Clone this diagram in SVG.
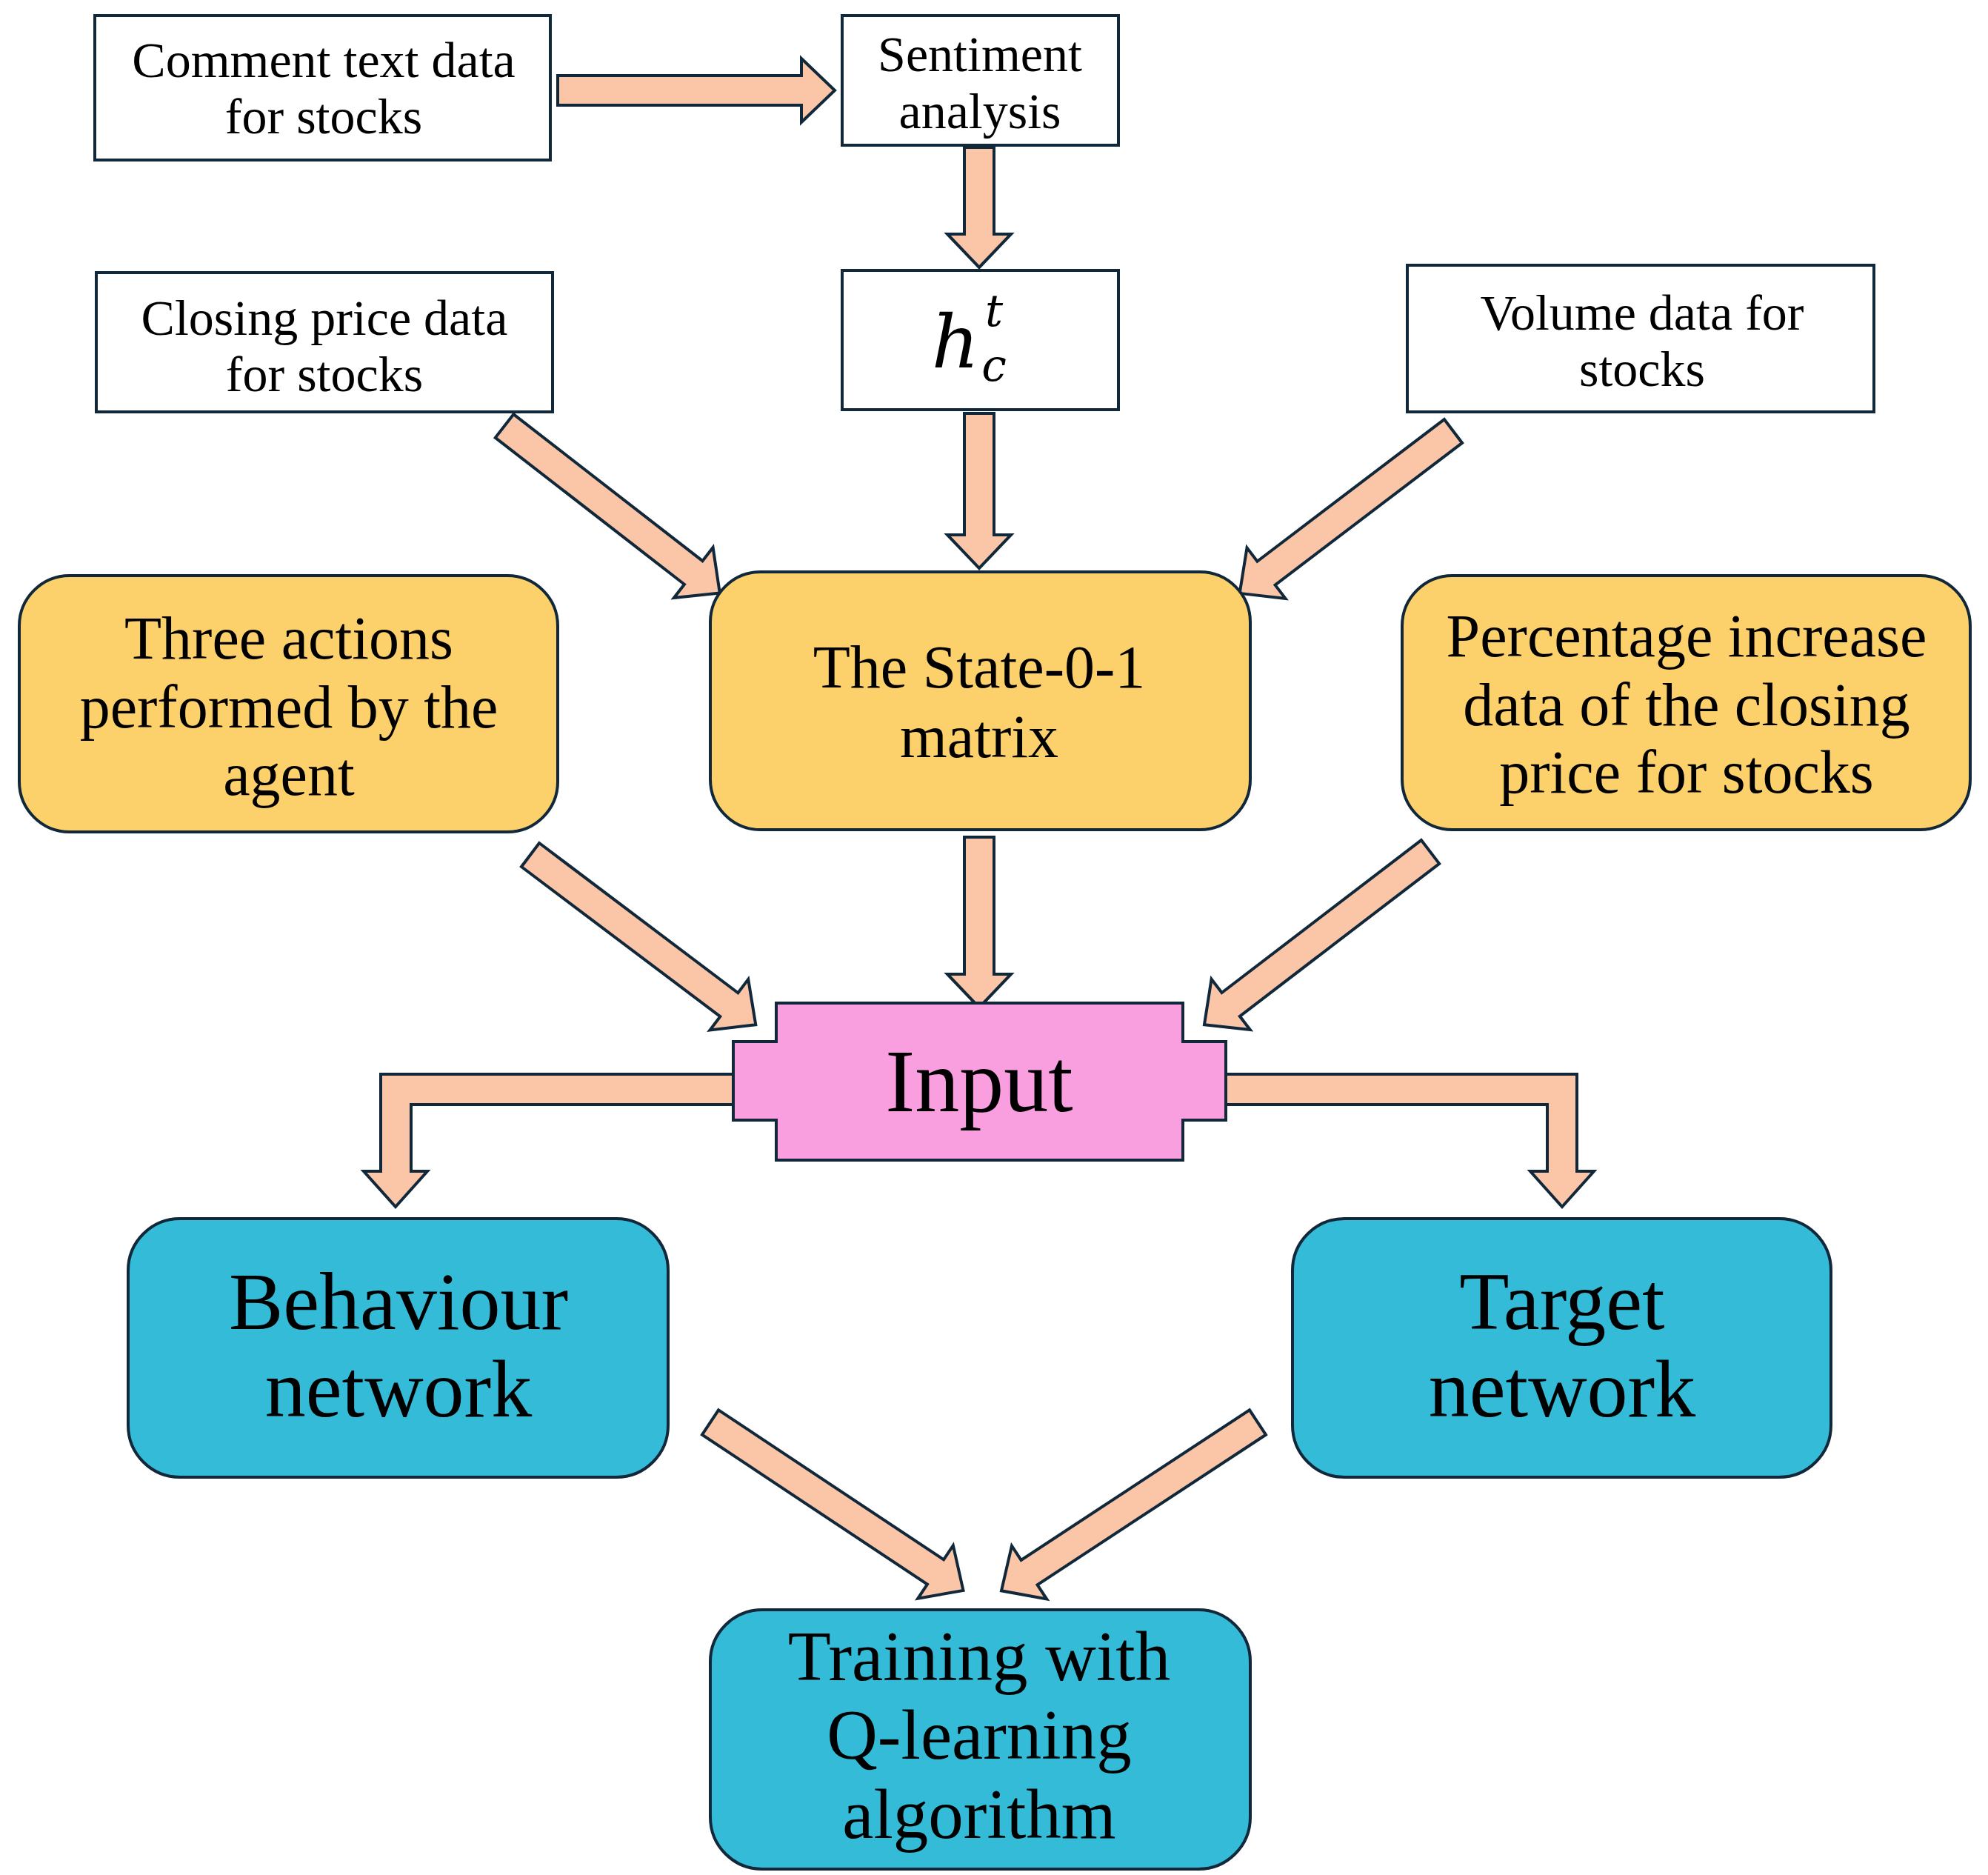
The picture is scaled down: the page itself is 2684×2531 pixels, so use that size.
<svg xmlns="http://www.w3.org/2000/svg" width="2684" height="2531" viewBox="0 0 2684 2531">
<style>
.box{fill:#fff;stroke:#10283a;stroke-width:4}
.yel{fill:#FCD06B;stroke:#10283a;stroke-width:4}
.blu{fill:#33BBD8;stroke:#10283a;stroke-width:4}
.pnk{fill:#F99EDF;stroke:#10283a;stroke-width:4}
.arr{fill:#FBC5A7;stroke:#10283a;stroke-width:4;stroke-linejoin:miter}
text{font-family:"Liberation Serif","Times New Roman",serif;fill:#000;text-anchor:middle}
.s{font-size:68px}.m{font-size:82px}.b{font-size:110px}.t{font-size:95px}
.mi{font-family:"DejaVu Serif",serif;font-style:italic}
</style>
<rect width="2684" height="2531" fill="#fff"/>
<g id="connectors">
<path class="arr" transform="translate(753,122)" d="M0,-20 H329 V-43 L374,0 L329,43 V20 H0 Z"/>
<path class="arr" transform="translate(1322,199) rotate(90)" d="M0,-20 H117 V-43 L162,0 L117,43 V20 H0 Z"/>
<path class="arr" transform="translate(1322,558) rotate(90)" d="M0,-20 H164 V-43 L209,0 L164,43 V20 H0 Z"/>
<path class="arr" transform="translate(1322,1130) rotate(90)" d="M0,-20 H185 V-43 L230,0 L185,43 V20 H0 Z"/>
<path class="arr" transform="translate(681,575) rotate(37.8)" d="M0,-20 H323 V-43 L368,0 L323,43 V20 H0 Z"/>
<path class="arr" transform="translate(1962,582) rotate(142.8)" d="M0,-20 H317 V-43 L362,0 L317,43 V20 H0 Z"/>
<path class="arr" transform="translate(716,1154) rotate(37)" d="M0,-20 H336 V-43 L381,0 L336,43 V20 H0 Z"/>
<path class="arr" transform="translate(1931,1150) rotate(142.6)" d="M0,-20 H339 V-43 L384,0 L339,43 V20 H0 Z"/>
<path class="arr" transform="translate(959,1920) rotate(33.6)" d="M0,-20 H365 V-43 L410,0 L365,43 V20 H0 Z"/>
<path class="arr" transform="translate(1698,1920) rotate(146.7)" d="M0,-20 H369 V-43 L414,0 L369,43 V20 H0 Z"/>
<path class="arr" d="M992,1450 H514 V1581 H491 L534,1629 L577,1581 H555 V1491 H992 Z"/>
<path class="arr" d="M1653,1450 H2129 V1581 H2152 L2109,1629 L2066,1581 H2089 V1491 H1653 Z"/>
</g>
<g id="comment"><rect class="box" x="128" y="21" width="615" height="195"/>
<text class="s" x="437" y="104">Comment text data</text><text class="s" x="437" y="180">for stocks</text></g>
<g id="sentiment"><rect class="box" x="1137" y="21" width="373" height="175"/>
<text class="s" x="1323" y="96">Sentiment</text><text class="s" x="1323" y="173">analysis</text></g>
<g id="hct"><rect class="box" x="1137" y="365" width="373" height="188"/>
<text class="mi" x="1290" y="496" style="font-size:100px">h</text>
<text class="mi" x="1342" y="440" style="font-size:60px">t</text>
<text class="mi" x="1342" y="514" style="font-size:60px">c</text></g>
<g id="closing"><rect class="box" x="130" y="368" width="616" height="188"/>
<text class="s" x="438" y="452">Closing price data</text><text class="s" x="438" y="528">for stocks</text></g>
<g id="volume"><rect class="box" x="1900" y="358" width="630" height="198"/>
<text class="s" x="2217" y="445">Volume data for</text><text class="s" x="2217" y="521">stocks</text></g>
<g id="three"><rect class="yel" x="26" y="777" width="727" height="346" rx="68"/>
<text class="m" x="390" y="889">Three actions</text><text class="m" x="390" y="982">performed by the</text><text class="m" x="390" y="1073">agent</text></g>
<g id="state"><rect class="yel" x="959" y="772" width="729" height="348" rx="68"/>
<text class="m" x="1322" y="928">The State-0-1</text><text class="m" x="1322" y="1022">matrix</text></g>
<g id="percentage"><rect class="yel" x="1893" y="777" width="767" height="343" rx="68"/>
<text class="m" x="2277" y="886">Percentage increase</text><text class="m" x="2277" y="979">data of the closing</text><text class="m" x="2277" y="1070">price for stocks</text></g>
<g id="input"><path class="pnk" d="M1048,1354 H1597 V1406 H1655 V1512 H1597 V1566 H1048 V1512 H990 V1406 H1048 Z"/>
<text x="1322" y="1500" style="font-size:120px">Input</text></g>
<g id="behaviour"><rect class="blu" x="173" y="1645" width="729" height="349" rx="70"/>
<text class="b" x="538" y="1794">Behaviour</text><text class="b" x="538" y="1912">network</text></g>
<g id="target"><rect class="blu" x="1745" y="1645" width="727" height="349" rx="70"/>
<text class="b" x="2109" y="1794">Target</text><text class="b" x="2109" y="1912">network</text></g>
<g id="training"><rect class="blu" x="959" y="2173" width="729" height="350" rx="70"/>
<text class="t" x="1322" y="2268">Training with</text><text class="t" x="1322" y="2374">Q-learning</text><text class="t" x="1322" y="2481">algorithm</text></g>
</svg>
